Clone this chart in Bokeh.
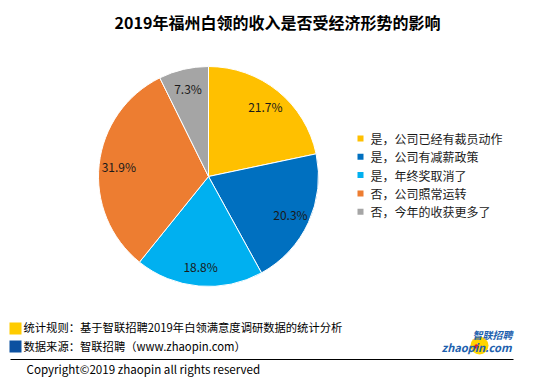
import numpy as np
from bokeh.plotting import figure
from bokeh.models import ColumnDataSource, Range1d
from bokeh.core.properties import value
from bokeh.embed import file_html
from bokeh.resources import INLINE

title = "2019年福州白领的收入是否受经济形势的影响"
categories = ["是，公司已经有裁员动作", "是，公司有减薪政策", "是，年终奖取消了",
              "否，公司照常运转", "否，今年的收获更多了"]
shares = [21.7, 20.3, 18.8, 31.9, 7.3]
colors = ["#FFC000", "#0070C0", "#00B0F0", "#ED7D31", "#A5A5A5"]
note_rule = "统计规则：基于智联招聘2019年白领满意度调研数据的统计分析"
note_source = "数据来源：智联招聘（www.zhaopin.com）"
copyright_text = "Copyright©2019 zhaopin all rights reserved"

FONT = "Noto Sans CJK SC"
W, H = 538, 379

def X(rx):
    return rx

def Y(ry):
    return H - ry

p = figure(width=W, height=H, output_backend="svg", toolbar_location=None,
           x_axis_type=None, y_axis_type=None,
           x_range=Range1d(0, W), y_range=Range1d(0, H),
           min_border=0, outline_line_color=None)
p.grid.visible = False
p.background_fill_color = "white"
p.border_fill_color = "white"

# pie
cx, cy, r = X(208), Y(176), 110
vals = np.array(shares, dtype=float)
frac = vals / vals.sum()
cum = np.concatenate([[0], np.cumsum(frac)])
start = np.pi / 2 - 2 * np.pi * cum[:-1]
end = np.pi / 2 - 2 * np.pi * cum[1:]
mid = (start + end) / 2
lr = 0.82 * r
src = ColumnDataSource(dict(start=start, end=end, color=colors,
                            lx=cx + lr * np.cos(mid), ly=cy + lr * np.sin(mid),
                            lab=[f"{v:.1f}%" for v in shares]))
p.wedge(x=cx, y=cy, radius=r, start_angle="start", end_angle="end",
        direction="clock", fill_color="color", line_color="white",
        line_width=1, source=src)
p.text(x="lx", y="ly", text="lab", source=src, text_font=value(FONT),
       text_font_size="12px", text_align="center", text_baseline="middle",
       text_color="#1a1a1a")

# title
p.text(x=[X(277)], y=[Y(21)], text=[title], text_font=value(FONT),
       text_font_size="16px", text_font_style="bold", text_align="center",
       text_baseline="middle", text_color="black")

# legend
n = len(categories)
leg_y = [Y(138 + 18.3 * i) for i in range(n)]
p.rect(x=[X(360)] * n, y=leg_y, width=6, height=6, fill_color=colors,
       line_color=None)
p.text(x=[X(370)] * n, y=leg_y, text=categories, text_font=value(FONT),
       text_font_size="12px", text_align="left", text_baseline="middle",
       text_color="#1a1a1a")

# footer notes
p.rect(x=[X(15), X(15)], y=[Y(328), Y(346)], width=12, height=12,
       fill_color=["#FFCC00", "#0B50A0"], line_color=None)
p.text(x=[X(23), X(23)], y=[Y(326), Y(345)], text=[note_rule, note_source],
       text_font=value(FONT), text_font_size="11.3px", text_align="left",
       text_baseline="middle", text_color="black")
p.segment(x0=[X(10)], y0=[Y(359)], x1=[X(513)], y1=[Y(359)],
          line_color="black", line_width=1)
p.text(x=[X(26)], y=[Y(368)], text=[copyright_text], text_font=value(FONT),
       text_font_size="11.6px", text_align="left", text_baseline="middle",
       text_color="black")

# logo
p.circle(x=[X(479)], y=[Y(345)], radius=9, fill_color="#FFD400",
         line_color=None)
p.circle(x=[X(476)], y=[Y(346)], radius=2.2, fill_color="#E02020",
         line_color=None)
p.text(x=[X(511)], y=[Y(346)], text=["zhaopin.com"], text_font=value(FONT),
       text_font_size="11px", text_font_style="bold italic",
       text_align="right", text_baseline="middle", text_color="#1D5FAE")
p.text(x=[X(512)], y=[Y(334)], text=["智联招聘"], text_font=value(FONT),
       text_font_size="10px", text_font_style="bold italic",
       text_align="right", text_baseline="middle", text_color="#1D5FAE")

open("out.html", "w").write(file_html(p, INLINE))
